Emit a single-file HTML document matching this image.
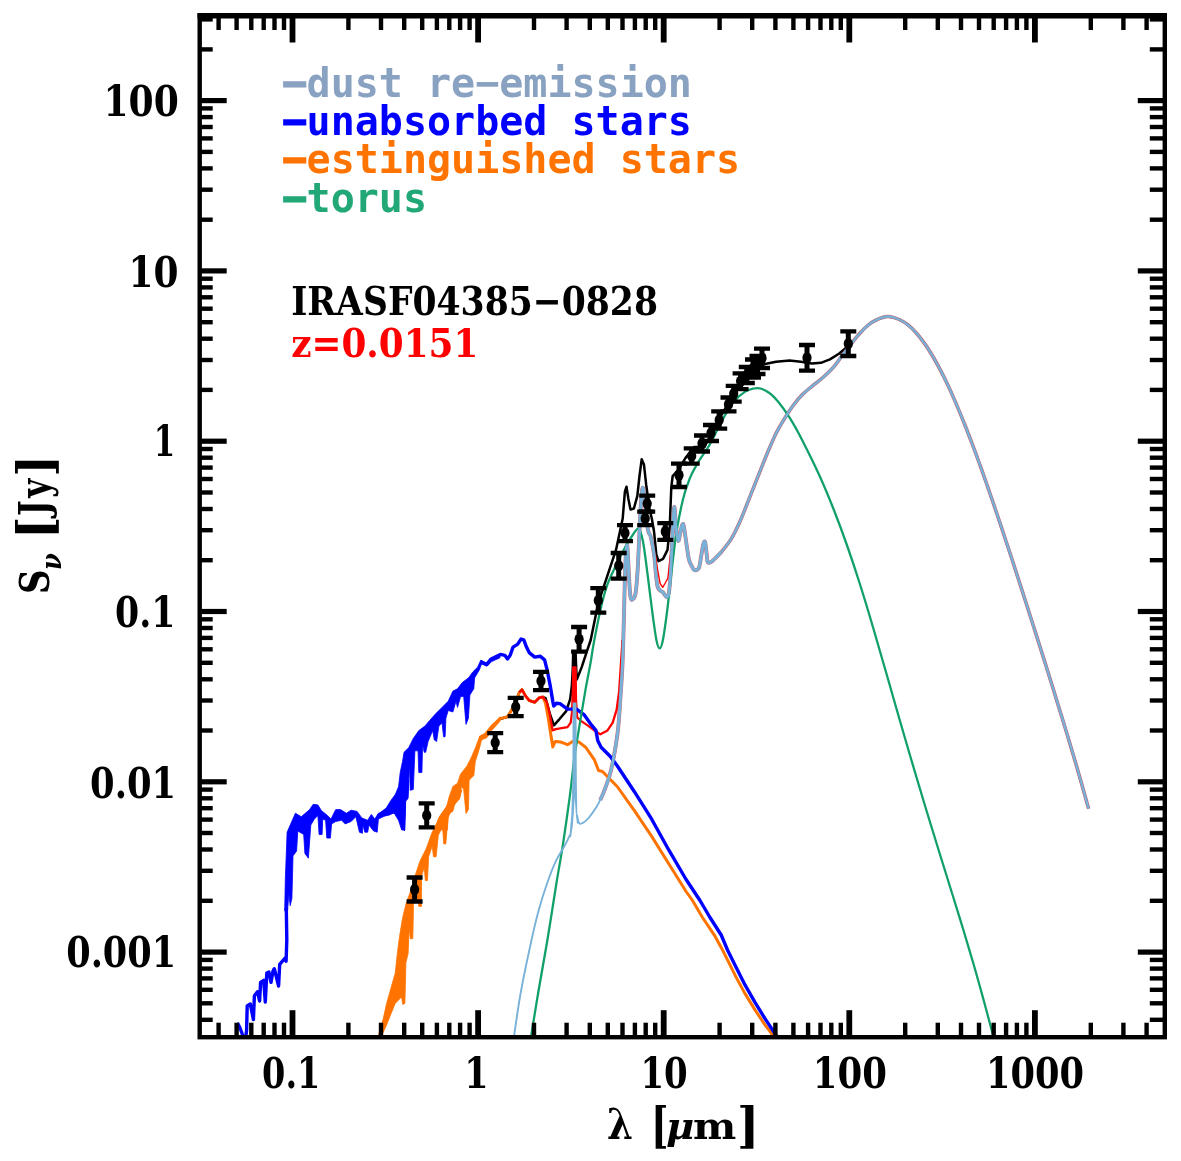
<!DOCTYPE html>
<html lang="en"><head><meta charset="utf-8"><title>SED IRASF04385-0828</title>
<style>html,body{margin:0;padding:0;background:#fff}svg{display:block;filter:blur(0.55px)}</style></head>
<body>
<svg width="1181" height="1161" viewBox="0 0 1181 1161">
<clipPath id="c"><rect x="199.7" y="15.5" width="965.1" height="1021.7"/></clipPath>
<g clip-path="url(#c)">
<polyline points="500.0,719.0 507.5,716.8 514.8,705.1 519.3,692.4 522.0,689.7 525.6,696.0 529.2,700.5 534.7,702.3 539.2,697.8 542.8,696.9 545.5,698.1 547.4,704.6 549.4,712.4 553.9,725.3 559.7,718.8 566.2,711.1 570.1,699.4 571.8,686.5 572.8,668.0 573.2,653.0 575.6,653.0 576.2,668.0 576.8,679.5 581.7,667.1 586.8,651.6 590.7,640.0 598.1,603.7 607.0,576.8 616.0,549.9 622.7,518.5 624.9,491.7 626.5,486.7 628.3,498.4 630.5,509.6 633.9,508.5 637.3,496.1 639.5,476.0 641.7,459.2 644.0,464.8 646.2,485.0 649.6,509.6 651.8,518.5 654.1,532.0 656.3,554.4 658.5,561.1 663.0,558.9 667.5,549.9 669.7,527.5 671.3,487.2 672.7,476.0 678.7,469.3 685.4,458.1 694.4,446.9 704.5,447.0 716.0,424.0 728.0,404.0 740.0,386.0 750.0,373.0 758.0,366.0 765.0,363.9 776.1,361.7 789.6,360.5 800.8,361.7 812.0,363.5 820.9,362.8 829.9,359.4 838.9,353.8 845.6,348.2 852.3,341.5" fill="none" stroke="#000" stroke-width="2.5" stroke-linejoin="round" stroke-linecap="butt" />
<polyline points="574.4,653.0 574.4,670.0" fill="none" stroke="#000" stroke-width="3.6" stroke-linejoin="round" stroke-linecap="butt" />
<path d="M600.2,800.0 C600.8,798.7 602.2,796.1 603.6,792.4 C605.0,788.7 607.3,783.0 608.8,778.0 C610.3,773.0 611.2,770.6 612.7,762.7 C614.2,754.8 616.6,741.2 617.9,730.4 C619.2,719.6 619.6,708.9 620.4,698.1 C621.1,687.3 621.8,678.5 622.4,665.8 C623.0,653.0 623.3,638.7 623.8,621.6 C624.3,604.5 624.8,576.0 625.4,563.3 C626.0,550.6 626.6,543.1 627.2,545.4 C627.8,547.6 628.5,568.2 629.0,576.8 C629.5,585.4 629.9,593.2 630.5,596.9 C631.1,600.6 631.9,600.0 632.8,599.2 C633.7,598.5 634.9,598.0 635.7,592.4 C636.6,586.8 637.1,578.3 637.9,565.6 C638.6,552.9 639.5,529.2 640.2,516.3 C641.0,503.4 641.6,491.3 642.4,488.3 C643.1,485.3 644.1,493.4 644.7,498.4 C645.3,503.4 645.6,512.9 646.2,518.5 C646.8,524.1 647.8,529.0 648.5,532.0 C649.2,535.0 649.8,532.8 650.7,536.5 C651.6,540.2 653.0,546.2 654.1,554.4 C655.2,562.6 655.9,579.4 657.4,585.7 C658.9,592.0 661.3,590.5 663.0,592.4 C664.7,594.3 666.4,598.0 667.5,596.9 C668.6,595.8 669.0,594.3 669.7,585.7 C670.5,577.1 671.2,558.5 672.0,545.4 C672.8,532.3 673.5,510.3 674.2,507.3 C674.9,504.3 675.3,521.9 676.0,527.5 C676.7,533.1 677.5,540.5 678.3,540.9 C679.1,541.3 680.1,532.5 680.9,529.7 C681.7,526.9 682.5,523.0 683.2,524.1 C684.0,525.2 684.5,530.7 685.4,536.5 C686.3,542.3 687.7,553.9 688.8,558.9 C689.9,563.9 691.2,564.8 692.1,566.7 C693.0,568.6 693.3,569.9 694.4,570.1 C695.5,570.3 697.8,570.0 698.9,567.8 C700.0,565.5 700.4,560.5 701.1,556.6 C701.8,552.7 702.6,546.7 703.3,544.3 C704.0,541.9 704.5,540.4 705.1,542.1 C705.7,543.8 706.2,551.0 706.7,554.4 C707.2,557.8 706.9,561.1 707.8,562.2 C708.7,563.3 710.0,562.8 712.3,561.1 C714.5,559.4 719.8,553.6 721.3,552.1" fill="none" stroke="#b0283c" stroke-width="3.9" stroke-linejoin="round" stroke-linecap="butt" opacity="0.7"/>
<path d="M721.3,552.1 C723.0,549.9 728.2,543.8 731.4,538.6 C734.6,533.4 737.3,527.4 740.3,520.7 C743.3,514.0 746.3,505.8 749.3,498.3 C752.3,490.8 755.2,483.4 758.2,475.9 C761.2,468.4 764.2,460.6 767.2,453.5 C770.2,446.4 773.1,439.3 776.1,433.3 C779.1,427.3 782.1,422.6 785.1,417.7 C788.1,412.8 791.1,408.1 794.1,404.2 C797.1,400.3 800.0,397.1 803.0,394.1 C806.0,391.1 808.6,389.1 812.0,386.3 C815.4,383.5 819.5,380.7 823.2,377.3 C826.9,373.9 831.0,370.0 834.4,366.1 C837.8,362.2 840.3,357.8 843.3,353.8 C846.3,349.9 849.5,345.9 852.3,342.4 C855.1,338.9 857.6,335.7 860.3,332.8 C863.0,329.9 865.6,327.2 868.3,325.0 C871.0,322.8 873.6,321.1 876.3,319.8 C879.0,318.5 882.3,317.6 884.3,317.0 C886.2,316.4 886.7,316.5 888.0,316.5 C889.3,316.5 890.2,316.6 892.3,317.2 C894.3,317.8 897.6,318.7 900.3,320.0 C903.0,321.3 905.6,323.0 908.3,325.2 C911.0,327.4 913.6,330.0 916.3,333.0 C919.0,336.0 921.6,339.4 924.3,343.1 C927.0,346.9 929.6,351.0 932.3,355.5 C935.0,360.0 937.6,364.8 940.3,369.9 C943.0,375.0 945.6,380.4 948.3,386.1 C951.0,391.8 953.6,397.9 956.3,404.1 C959.0,410.3 961.6,416.8 964.3,423.5 C967.0,430.2 969.6,437.1 972.3,444.2 C975.0,451.3 977.6,458.5 980.3,465.9 C983.0,473.3 985.6,480.9 988.3,488.6 C991.0,496.3 993.6,504.1 996.3,512.0 C999.0,519.9 1001.6,528.0 1004.3,536.0 C1007.0,544.0 1009.6,552.1 1012.3,560.3 C1015.0,568.5 1017.6,576.7 1020.3,585.0 C1023.0,593.3 1025.6,601.6 1028.3,610.0 C1031.0,618.4 1033.6,626.7 1036.3,635.1 C1039.0,643.5 1041.6,651.9 1044.3,660.4 C1047.0,668.9 1049.6,677.4 1052.3,686.0 C1055.0,694.6 1057.6,703.2 1060.3,711.9 C1063.0,720.6 1065.6,729.3 1068.3,738.2 C1071.0,747.1 1073.6,756.0 1076.3,765.2 C1079.0,774.4 1082.2,785.9 1084.3,793.2 C1086.3,800.5 1087.9,806.2 1088.6,808.8" fill="none" stroke="#a02838" stroke-width="3.5" stroke-linejoin="round" stroke-linecap="butt" opacity="0.75"/>
<polygon points="377.9,1036.8 383.3,1018.4 386.6,1003.4 390.9,988.3 395.2,973.2 397.3,953.8 399.5,936.6 402.7,917.2 405.9,904.2 411.3,889.1 415.6,874.1 420.0,861.1 426.4,848.2 431.8,833.1 438.3,820.2 444.7,809.4 451.2,798.6 456.6,790.0 462.0,790.0 459.8,796.5 455.5,802.9 451.2,810.5 448.0,818.0 445.8,843.9 443.7,843.9 442.6,826.6 438.3,835.3 436.1,856.8 433.5,856.8 432.2,846.0 428.6,856.8 427.5,880.5 425.3,880.5 424.3,867.6 421.5,876.2 421.5,906.4 418.9,906.4 417.8,897.8 413.5,904.2 412.8,938.7 410.3,938.7 409.2,927.9 408.1,953.8 405.9,962.4 404.9,1003.4 402.7,1004.4 401.6,996.9 395.2,1003.4 390.9,1014.1 386.6,1024.9 381.2,1036.8" fill="#ff7300" stroke="#ff7300" stroke-width="0.8" stroke-linejoin="round"/>
<polygon points="434.3,830.0 438.9,817.4 442.0,812.8 446.7,806.6 449.0,797.3 452.9,786.4 457.5,783.3 460.6,774.0 466.8,766.3 471.5,757.0 476.1,746.1 479.2,737.6 485.4,734.5 490.1,727.5 500.0,716.7 500.0,721.3 491.6,730.6 487.0,737.6 481.6,739.9 479.2,749.2 475.3,761.6 473.8,775.6 469.1,780.2 468.4,809.7 466.0,813.6 463.7,789.5 461.4,786.4 459.8,798.8 456.7,801.9 454.4,805.0 452.9,811.2 448.2,814.3 447.4,830.0" fill="#ff7300" stroke="#ff7300" stroke-width="0.8" stroke-linejoin="round"/>
<polyline points="479.5,737.6 485.8,734.0 493.1,725.0 500.3,718.6 507.5,716.8 514.8,705.1 519.3,692.4 522.0,689.7 525.6,696.0 529.2,700.5 534.7,702.3 539.2,697.8 542.8,696.9 545.5,703.2 548.2,717.7 551.0,735.8 552.8,747.0 555.2,741.4 561.0,742.1 567.5,744.7 572.6,741.4 579.1,742.1 585.6,747.2 594.6,760.2 598.5,770.5 602.5,771.5 617.2,786.5 634.4,810.6 651.7,836.4 668.9,864.0 686.1,891.5 692.5,900.5 702.5,917.5 715.0,936.2 721.2,947.4 727.5,959.9 736.2,977.4 745.0,993.6 755.0,1009.9 765.0,1024.8 773.5,1036.0" fill="none" stroke="#ff7300" stroke-width="3.0" stroke-linejoin="round" stroke-linecap="butt" />
<polyline points="519.3,692.4 522.0,689.7 525.6,696.0 529.2,700.5 534.7,702.3 539.2,697.8 542.8,696.9 546.8,702.0 549.4,712.4 552.6,730.4 555.8,729.1 567.5,727.2 570.7,722.7 572.0,712.4 572.9,690.0 573.2,667.5 575.6,667.5 576.0,700.0 577.2,717.5 581.7,721.4 589.4,726.6 595.9,731.7 600.4,734.3 607.5,730.4 612.7,722.7 616.6,709.8 619.1,691.7 620.4,672.3 621.7,652.9 622.4,640.0" fill="none" stroke="#ff0000" stroke-width="2.3" stroke-linejoin="round" stroke-linecap="butt" />
<polyline points="654.1,552.0 655.6,556.0 657.5,569.2 660.1,583.4 662.7,587.3 665.3,583.0 667.9,578.0 669.8,560.0 672.0,545.4" fill="none" stroke="#ff0000" stroke-width="1.4" stroke-linejoin="round" stroke-linecap="butt" />
<polyline points="574.4,667.5 574.4,714.0" fill="none" stroke="#ff0000" stroke-width="3.4" stroke-linejoin="round" stroke-linecap="butt" />
<polyline points="237.4,1022.7 240.0,1028.0 243.0,1036.0 245.5,1040.0 246.6,1030.0 247.2,1006.0 250.3,1004.0 253.4,1019.6 254.4,995.8 257.5,991.7 259.6,1001.0 260.6,982.4 263.7,980.3 265.3,1002.0 266.8,973.0 268.9,972.0 271.0,982.4 273.0,971.0 274.3,968.7 278.6,986.0 279.7,964.4 285.1,958.0 286.1,961.2 286.8,940.0 286.3,908.0" fill="none" stroke="#0000ff" stroke-width="3.4" stroke-linejoin="round" stroke-linecap="butt" />
<polygon points="284.7,911.0 285.3,880.0 287.1,832.2 295.4,813.2 301.3,816.7 309.6,809.6 313.2,804.3 317.9,804.9 321.5,810.8 326.2,814.4 331.0,819.1 335.7,809.6 340.5,809.6 346.4,813.2 351.1,810.2 357.1,811.4 361.8,817.9 367.7,820.3 371.3,814.4 374.8,819.1 378.4,813.2 384.3,811.4 389.1,806.1 392.6,800.2 398.5,789.5 402.1,780.0 408.6,780.0 408.0,797.8 405.7,801.3 404.5,831.0 399.7,821.5 396.2,813.2 391.4,813.2 386.7,815.0 378.4,819.1 377.2,832.2 373.6,831.0 368.9,825.0 367.7,832.2 364.8,832.2 363.0,825.0 362.4,833.3 359.4,832.2 355.9,816.7 351.1,821.5 345.2,823.9 341.6,820.3 335.7,821.5 331.6,823.9 330.4,838.1 326.8,838.1 325.6,820.3 322.7,819.1 322.1,834.5 319.1,834.5 317.9,815.6 314.4,819.1 310.8,825.0 308.4,858.2 304.9,853.5 303.7,834.5 297.8,831.0 296.6,851.1 293.0,855.9 292.4,880.0 291.9,898.5 290.2,905.7 288.8,893.8 287.6,911.0" fill="#0000ff" stroke="#0000ff" stroke-width="0.8" stroke-linejoin="round"/>
<polygon points="380.0,812.8 386.2,808.1 390.9,800.4 395.5,794.2 398.6,786.4 400.2,772.5 402.5,761.6 404.0,752.3 408.7,747.7 413.3,738.4 418.8,730.6 425.0,726.0 429.6,720.5 435.8,713.6 442.0,707.4 448.2,701.2 452.9,691.1 457.5,688.8 462.2,682.6 468.4,677.9 473.0,671.7 477.7,667.1 480.8,660.1 487.0,664.0 491.6,658.5 500.0,654.7 500.0,657.8 491.6,661.6 487.0,666.3 481.6,664.0 479.2,670.2 474.6,677.9 473.8,688.8 469.9,695.0 468.4,718.2 466.0,724.4 463.7,696.5 460.6,696.5 457.5,707.4 456.0,701.2 452.9,712.0 448.2,710.5 445.9,718.2 445.1,736.8 443.6,736.8 442.0,722.9 438.9,726.0 436.6,741.5 434.3,739.9 432.7,730.6 428.1,741.5 425.7,752.3 424.2,752.3 422.6,744.6 421.9,772.5 418.8,772.5 418.0,750.8 414.9,750.8 413.3,789.5 410.2,790.3 409.5,764.7 407.9,798.8 405.6,800.4 404.8,830.0 401.7,830.0 398.6,820.5 394.0,812.8 389.3,815.1 384.7,815.9 380.0,815.9" fill="#0000ff" stroke="#0000ff" stroke-width="0.8" stroke-linejoin="round"/>
<polyline points="480.4,661.6 486.7,664.3 491.2,658.9 500.3,654.4 504.8,655.3 507.5,658.9 510.2,655.3 513.0,647.1 517.5,644.4 521.1,639.0 523.8,639.9 526.5,647.1 529.2,652.6 534.7,657.1 540.1,656.2 544.6,659.8 547.3,670.7 550.1,685.1 552.8,701.4 553.7,706.0 556.4,703.2 560.0,703.6 567.5,709.1 576.5,709.1 584.3,714.9 590.7,724.0 595.9,730.4 597.8,740.8 601.1,747.2 610.1,756.3 617.2,765.8 634.4,791.7 651.7,819.2 668.9,850.2 686.1,879.5 700.0,900.5 710.0,917.5 721.2,935.0 727.5,950.0 736.2,967.4 745.0,984.9 755.0,1002.4 765.0,1018.6 776.6,1036.0" fill="none" stroke="#0000ff" stroke-width="3.4" stroke-linejoin="round" stroke-linecap="butt" />
<path d="M531.1,1036.4 C532.3,1029.1 535.5,1008.6 538.2,992.8 C540.9,976.9 544.2,959.2 547.2,941.3 C550.2,923.4 553.5,901.4 556.1,885.3 C558.7,869.2 560.6,859.5 562.9,844.9 C565.1,830.3 567.6,812.7 569.6,797.9 C571.6,783.1 572.8,769.3 574.6,756.3 C576.4,743.3 578.6,731.3 580.4,720.1 C582.2,708.9 583.9,698.8 585.6,689.1 C587.3,679.4 589.4,669.5 590.7,662.0 C592.0,654.5 592.0,652.6 593.6,644.0 C595.2,635.4 598.1,620.1 600.3,610.4 C602.5,600.7 604.4,593.2 607.0,585.7 C609.6,578.2 613.0,571.9 616.0,565.6 C619.0,559.3 622.3,552.6 624.9,547.7 C627.5,542.9 629.5,539.7 631.7,536.5 C634.0,533.3 636.5,527.9 638.4,528.6 C640.3,529.3 641.4,533.6 642.9,540.9 C644.4,548.2 645.8,561.1 647.3,572.3 C648.8,583.5 650.3,596.9 651.8,608.1 C653.3,619.3 655.0,632.8 656.3,639.5 C657.6,646.2 658.6,648.4 659.7,648.4 C660.8,648.4 661.7,646.2 663.0,639.5 C664.3,632.8 666.0,620.1 667.5,608.1 C669.0,596.1 670.5,580.5 672.0,567.8 C673.5,555.1 674.6,543.6 676.5,532.0 C678.4,520.4 681.0,507.4 683.2,498.4 C685.4,489.4 687.7,483.8 689.9,478.2 C692.1,472.6 694.0,469.3 696.6,464.8 C699.2,460.3 703.2,454.8 705.6,451.0 C708.0,447.2 708.4,447.2 711.2,442.0 C714.0,436.8 718.7,426.6 722.4,419.9 C726.1,413.2 729.9,406.7 733.6,402.0 C737.3,397.3 741.4,394.1 744.8,391.9 C748.2,389.6 751.2,389.1 753.8,388.5 C756.4,387.9 757.9,387.8 760.5,388.5 C763.1,389.2 766.4,390.8 769.4,393.0 C772.4,395.2 775.0,397.9 778.4,402.0 C781.8,406.1 785.6,411.4 789.6,417.7 C793.6,424.0 797.2,430.4 802.1,440.0 C807.0,449.6 813.9,463.3 819.2,475.0 C824.5,486.7 829.3,498.3 833.9,510.0 C838.5,521.7 842.8,533.3 846.9,545.0 C851.0,556.7 854.9,568.3 858.6,580.0 C862.4,591.7 865.9,603.3 869.4,615.0 C872.9,626.7 876.2,638.3 879.6,650.0 C883.0,661.7 886.4,673.3 889.7,685.0 C893.1,696.7 896.3,708.3 899.7,720.0 C903.1,731.7 906.5,743.3 909.9,755.0 C913.3,766.7 916.8,778.3 920.3,790.0 C923.8,801.7 927.3,813.3 930.9,825.0 C934.5,836.7 938.1,848.3 941.7,860.0 C945.3,871.7 949.0,883.3 952.6,895.0 C956.2,906.7 959.9,918.3 963.4,930.0 C966.9,941.7 970.4,953.3 973.8,965.0 C977.2,976.7 980.3,988.0 983.6,1000.0 C986.9,1012.0 991.9,1031.0 993.6,1037.2" fill="none" stroke="#12a06a" stroke-width="2.3" stroke-linejoin="round" stroke-linecap="butt" />
<path d="M514.0,1036.4 C515.0,1029.5 517.8,1009.4 520.3,995.0 C522.8,980.6 526.3,964.0 529.3,950.2 C532.3,936.4 535.2,923.3 538.2,912.1 C541.2,900.9 544.2,891.6 547.2,883.0 C550.2,874.4 553.1,867.0 556.1,860.6 C559.1,854.2 562.8,849.2 565.1,844.9 C567.5,840.5 569.4,836.2 570.2,834.5" fill="none" stroke="#79b2d8" stroke-width="1.9" stroke-linejoin="round" stroke-linecap="butt" />
<path d="M577.0,815.0 C577.5,816.5 578.0,823.0 579.7,823.7 C581.5,824.4 584.7,822.0 587.5,819.2 C590.3,816.4 594.4,810.1 596.5,806.9 C598.6,803.7 599.6,801.1 600.2,800.0" fill="none" stroke="#79b2d8" stroke-width="1.9" stroke-linejoin="round" stroke-linecap="butt" />
<polygon points="569.4,836.4 571.3,815 572.4,780 572.6,702.5 576.5,702.5 576.8,780 577.3,816 578.5,822.6 577.0,824.2 575.7,812 574.7,798 573.9,812 572.8,826 571.0,837.4" fill="#79b2d8"/>
<path d="M600.2,800.0 C600.8,798.7 602.2,796.1 603.6,792.4 C605.0,788.7 607.3,783.0 608.8,778.0 C610.3,773.0 611.2,770.6 612.7,762.7 C614.2,754.8 616.6,741.2 617.9,730.4 C619.2,719.6 619.6,708.9 620.4,698.1 C621.1,687.3 621.8,678.5 622.4,665.8 C623.0,653.0 623.3,638.7 623.8,621.6 C624.3,604.5 624.8,576.0 625.4,563.3 C626.0,550.6 626.6,543.1 627.2,545.4 C627.8,547.6 628.5,568.2 629.0,576.8 C629.5,585.4 629.9,593.2 630.5,596.9 C631.1,600.6 631.9,600.0 632.8,599.2 C633.7,598.5 634.9,598.0 635.7,592.4 C636.6,586.8 637.1,578.3 637.9,565.6 C638.6,552.9 639.5,529.2 640.2,516.3 C641.0,503.4 641.6,491.3 642.4,488.3 C643.1,485.3 644.1,493.4 644.7,498.4 C645.3,503.4 645.6,512.9 646.2,518.5 C646.8,524.1 647.8,529.0 648.5,532.0 C649.2,535.0 649.8,532.8 650.7,536.5 C651.6,540.2 653.0,546.2 654.1,554.4 C655.2,562.6 655.9,579.4 657.4,585.7 C658.9,592.0 661.3,590.5 663.0,592.4 C664.7,594.3 666.4,598.0 667.5,596.9 C668.6,595.8 669.0,594.3 669.7,585.7 C670.5,577.1 671.2,558.5 672.0,545.4 C672.8,532.3 673.5,510.3 674.2,507.3 C674.9,504.3 675.3,521.9 676.0,527.5 C676.7,533.1 677.5,540.5 678.3,540.9 C679.1,541.3 680.1,532.5 680.9,529.7 C681.7,526.9 682.5,523.0 683.2,524.1 C684.0,525.2 684.5,530.7 685.4,536.5 C686.3,542.3 687.7,553.9 688.8,558.9 C689.9,563.9 691.2,564.8 692.1,566.7 C693.0,568.6 693.3,569.9 694.4,570.1 C695.5,570.3 697.8,570.0 698.9,567.8 C700.0,565.5 700.4,560.5 701.1,556.6 C701.8,552.7 702.6,546.7 703.3,544.3 C704.0,541.9 704.5,540.4 705.1,542.1 C705.7,543.8 706.2,551.0 706.7,554.4 C707.2,557.8 706.9,561.1 707.8,562.2 C708.7,563.3 710.0,562.8 712.3,561.1 C714.5,559.4 719.8,553.6 721.3,552.1" fill="none" stroke="#79b2d8" stroke-width="3.1" stroke-linejoin="round" stroke-linecap="butt" />
<path d="M721.3,552.1 C723.0,549.9 728.2,543.8 731.4,538.6 C734.6,533.4 737.3,527.4 740.3,520.7 C743.3,514.0 746.3,505.8 749.3,498.3 C752.3,490.8 755.2,483.4 758.2,475.9 C761.2,468.4 764.2,460.6 767.2,453.5 C770.2,446.4 773.1,439.3 776.1,433.3 C779.1,427.3 782.1,422.6 785.1,417.7 C788.1,412.8 791.1,408.1 794.1,404.2 C797.1,400.3 800.0,397.1 803.0,394.1 C806.0,391.1 808.6,389.1 812.0,386.3 C815.4,383.5 819.5,380.7 823.2,377.3 C826.9,373.9 831.0,370.0 834.4,366.1 C837.8,362.2 840.3,357.8 843.3,353.8 C846.3,349.9 849.5,345.9 852.3,342.4 C855.1,338.9 857.6,335.7 860.3,332.8 C863.0,329.9 865.6,327.2 868.3,325.0 C871.0,322.8 873.6,321.1 876.3,319.8 C879.0,318.5 882.3,317.6 884.3,317.0 C886.2,316.4 886.7,316.5 888.0,316.5 C889.3,316.5 890.2,316.6 892.3,317.2 C894.3,317.8 897.6,318.7 900.3,320.0 C903.0,321.3 905.6,323.0 908.3,325.2 C911.0,327.4 913.6,330.0 916.3,333.0 C919.0,336.0 921.6,339.4 924.3,343.1 C927.0,346.9 929.6,351.0 932.3,355.5 C935.0,360.0 937.6,364.8 940.3,369.9 C943.0,375.0 945.6,380.4 948.3,386.1 C951.0,391.8 953.6,397.9 956.3,404.1 C959.0,410.3 961.6,416.8 964.3,423.5 C967.0,430.2 969.6,437.1 972.3,444.2 C975.0,451.3 977.6,458.5 980.3,465.9 C983.0,473.3 985.6,480.9 988.3,488.6 C991.0,496.3 993.6,504.1 996.3,512.0 C999.0,519.9 1001.6,528.0 1004.3,536.0 C1007.0,544.0 1009.6,552.1 1012.3,560.3 C1015.0,568.5 1017.6,576.7 1020.3,585.0 C1023.0,593.3 1025.6,601.6 1028.3,610.0 C1031.0,618.4 1033.6,626.7 1036.3,635.1 C1039.0,643.5 1041.6,651.9 1044.3,660.4 C1047.0,668.9 1049.6,677.4 1052.3,686.0 C1055.0,694.6 1057.6,703.2 1060.3,711.9 C1063.0,720.6 1065.6,729.3 1068.3,738.2 C1071.0,747.1 1073.6,756.0 1076.3,765.2 C1079.0,774.4 1082.2,785.9 1084.3,793.2 C1086.3,800.5 1087.9,806.2 1088.6,808.8" fill="none" stroke="#79b2d8" stroke-width="2.4" stroke-linejoin="round" stroke-linecap="butt" />
</g>
<g><path d="M414.6,877.5 V901.5" stroke="#000" stroke-width="5" fill="none"/><path d="M406.6,877.5 H422.6 M406.6,901.5 H422.6" stroke="#000" stroke-width="4.3" fill="none"/><ellipse cx="414.6" cy="889.5" rx="4.6" ry="5.6" fill="#000"/><path d="M426.7,803.4 V827.4" stroke="#000" stroke-width="5" fill="none"/><path d="M418.7,803.4 H434.7 M418.7,827.4 H434.7" stroke="#000" stroke-width="4.3" fill="none"/><ellipse cx="426.7" cy="815.4" rx="4.6" ry="5.6" fill="#000"/><path d="M495.2,733.1 V752.1" stroke="#000" stroke-width="5" fill="none"/><path d="M487.2,733.1 H503.2 M487.2,752.1 H503.2" stroke="#000" stroke-width="4.3" fill="none"/><ellipse cx="495.2" cy="742.6" rx="4.6" ry="5.6" fill="#000"/><path d="M515.7,697.8 V716.2" stroke="#000" stroke-width="5" fill="none"/><path d="M507.7,697.8 H523.7 M507.7,716.2 H523.7" stroke="#000" stroke-width="4.3" fill="none"/><ellipse cx="515.7" cy="707.0" rx="4.6" ry="5.6" fill="#000"/><path d="M541.0,671.8 V690.2" stroke="#000" stroke-width="5" fill="none"/><path d="M533.0,671.8 H549.0 M533.0,690.2 H549.0" stroke="#000" stroke-width="4.3" fill="none"/><ellipse cx="541.0" cy="681.0" rx="4.6" ry="5.6" fill="#000"/><path d="M579.1,627.0 V651.6" stroke="#000" stroke-width="5" fill="none"/><path d="M571.1,627.0 H587.1 M571.1,651.6 H587.1" stroke="#000" stroke-width="4.3" fill="none"/><ellipse cx="579.1" cy="639.3" rx="4.6" ry="5.6" fill="#000"/><path d="M598.3,588.1 V612.7" stroke="#000" stroke-width="5" fill="none"/><path d="M590.3,588.1 H606.3 M590.3,612.7 H606.3" stroke="#000" stroke-width="4.3" fill="none"/><ellipse cx="598.3" cy="600.4" rx="4.6" ry="5.6" fill="#000"/><path d="M618.7,553.0 V578.6" stroke="#000" stroke-width="5" fill="none"/><path d="M610.7,553.0 H626.7 M610.7,578.6 H626.7" stroke="#000" stroke-width="4.3" fill="none"/><ellipse cx="618.7" cy="565.8" rx="4.6" ry="5.6" fill="#000"/><path d="M625.0,525.1 V541.1" stroke="#000" stroke-width="5" fill="none"/><path d="M617.0,525.1 H633.0 M617.0,541.1 H633.0" stroke="#000" stroke-width="4.3" fill="none"/><ellipse cx="625.0" cy="533.1" rx="4.6" ry="5.6" fill="#000"/><path d="M647.2,495.6 V511.6" stroke="#000" stroke-width="5" fill="none"/><path d="M639.2,495.6 H655.2 M639.2,511.6 H655.2" stroke="#000" stroke-width="4.3" fill="none"/><ellipse cx="647.2" cy="503.6" rx="4.6" ry="5.6" fill="#000"/><path d="M645.2,511.6 V525.2" stroke="#000" stroke-width="5" fill="none"/><path d="M637.2,511.6 H653.2 M637.2,525.2 H653.2" stroke="#000" stroke-width="4.3" fill="none"/><ellipse cx="645.2" cy="518.4" rx="4.6" ry="5.6" fill="#000"/><path d="M665.3,523.1 V539.9" stroke="#000" stroke-width="5" fill="none"/><path d="M657.3,523.1 H673.3 M657.3,539.9 H673.3" stroke="#000" stroke-width="4.3" fill="none"/><ellipse cx="665.3" cy="531.5" rx="4.6" ry="5.6" fill="#000"/><path d="M679.0,463.6 V487.0" stroke="#000" stroke-width="5" fill="none"/><path d="M671.0,463.6 H687.0 M671.0,487.0 H687.0" stroke="#000" stroke-width="4.3" fill="none"/><ellipse cx="679.0" cy="475.3" rx="4.6" ry="5.6" fill="#000"/><path d="M691.7,448.4 V463.6" stroke="#000" stroke-width="5" fill="none"/><path d="M683.7,448.4 H699.7 M683.7,463.6 H699.7" stroke="#000" stroke-width="4.3" fill="none"/><ellipse cx="691.7" cy="456.0" rx="4.6" ry="5.6" fill="#000"/><path d="M702.0,435.5 V451.5" stroke="#000" stroke-width="5" fill="none"/><path d="M694.0,435.5 H710.0 M694.0,451.5 H710.0" stroke="#000" stroke-width="4.3" fill="none"/><ellipse cx="702.0" cy="443.5" rx="4.6" ry="5.6" fill="#000"/><path d="M711.0,425.0 V441.0" stroke="#000" stroke-width="5" fill="none"/><path d="M703.0,425.0 H719.0 M703.0,441.0 H719.0" stroke="#000" stroke-width="4.3" fill="none"/><ellipse cx="711.0" cy="433.0" rx="4.6" ry="5.6" fill="#000"/><path d="M719.2,411.4 V428.6" stroke="#000" stroke-width="5" fill="none"/><path d="M711.2,411.4 H727.2 M711.2,428.6 H727.2" stroke="#000" stroke-width="4.3" fill="none"/><ellipse cx="719.2" cy="420.0" rx="4.6" ry="5.6" fill="#000"/><path d="M728.5,397.5 V411.3" stroke="#000" stroke-width="5" fill="none"/><path d="M720.5,397.5 H736.5 M720.5,411.3 H736.5" stroke="#000" stroke-width="4.3" fill="none"/><ellipse cx="728.5" cy="404.4" rx="4.6" ry="5.6" fill="#000"/><path d="M733.7,385.8 V401.6" stroke="#000" stroke-width="5" fill="none"/><path d="M725.7,385.8 H741.7 M725.7,401.6 H741.7" stroke="#000" stroke-width="4.3" fill="none"/><ellipse cx="733.7" cy="393.7" rx="4.6" ry="5.6" fill="#000"/><path d="M740.6,373.4 V389.2" stroke="#000" stroke-width="5" fill="none"/><path d="M732.6,373.4 H748.6 M732.6,389.2 H748.6" stroke="#000" stroke-width="4.3" fill="none"/><ellipse cx="740.6" cy="381.3" rx="4.6" ry="5.6" fill="#000"/><path d="M746.8,367.0 V383.0" stroke="#000" stroke-width="5" fill="none"/><path d="M738.8,367.0 H754.8 M738.8,383.0 H754.8" stroke="#000" stroke-width="4.3" fill="none"/><ellipse cx="746.8" cy="375.0" rx="4.6" ry="5.6" fill="#000"/><path d="M753.0,359.5 V377.5" stroke="#000" stroke-width="5" fill="none"/><path d="M745.0,359.5 H761.0 M745.0,377.5 H761.0" stroke="#000" stroke-width="4.3" fill="none"/><ellipse cx="753.0" cy="368.5" rx="4.6" ry="5.6" fill="#000"/><path d="M757.5,356.0 V374.0" stroke="#000" stroke-width="5" fill="none"/><path d="M749.5,356.0 H765.5 M749.5,374.0 H765.5" stroke="#000" stroke-width="4.3" fill="none"/><ellipse cx="757.5" cy="365.0" rx="4.6" ry="5.6" fill="#000"/><path d="M762.0,348.6 V368.0" stroke="#000" stroke-width="5" fill="none"/><path d="M754.0,348.6 H770.0 M754.0,368.0 H770.0" stroke="#000" stroke-width="4.3" fill="none"/><ellipse cx="762.0" cy="358.3" rx="4.6" ry="5.6" fill="#000"/><path d="M807.0,345.0 V370.6" stroke="#000" stroke-width="5" fill="none"/><path d="M799.0,345.0 H815.0 M799.0,370.6 H815.0" stroke="#000" stroke-width="4.3" fill="none"/><ellipse cx="807.0" cy="357.8" rx="4.6" ry="5.6" fill="#000"/><path d="M848.3,331.4 V356.0" stroke="#000" stroke-width="5" fill="none"/><path d="M840.3,331.4 H856.3 M840.3,356.0 H856.3" stroke="#000" stroke-width="4.3" fill="none"/><ellipse cx="848.3" cy="343.7" rx="4.6" ry="5.6" fill="#000"/></g>
<g stroke="#000" stroke-linecap="butt"><line x1="218.6" y1="1037.2" x2="218.6" y2="1022.7" stroke-width="4.4"/><line x1="218.6" y1="15.5" x2="218.6" y2="30.0" stroke-width="4.4"/><line x1="236.6" y1="1037.2" x2="236.6" y2="1022.7" stroke-width="4.4"/><line x1="236.6" y1="15.5" x2="236.6" y2="30.0" stroke-width="4.4"/><line x1="251.3" y1="1037.2" x2="251.3" y2="1022.7" stroke-width="4.4"/><line x1="251.3" y1="15.5" x2="251.3" y2="30.0" stroke-width="4.4"/><line x1="263.7" y1="1037.2" x2="263.7" y2="1022.7" stroke-width="4.4"/><line x1="263.7" y1="15.5" x2="263.7" y2="30.0" stroke-width="4.4"/><line x1="274.5" y1="1037.2" x2="274.5" y2="1022.7" stroke-width="4.4"/><line x1="274.5" y1="15.5" x2="274.5" y2="30.0" stroke-width="4.4"/><line x1="284.0" y1="1037.2" x2="284.0" y2="1022.7" stroke-width="4.4"/><line x1="284.0" y1="15.5" x2="284.0" y2="30.0" stroke-width="4.4"/><line x1="292.5" y1="1037.2" x2="292.5" y2="1010.2" stroke-width="5.8"/><line x1="292.5" y1="15.5" x2="292.5" y2="42.5" stroke-width="5.8"/><line x1="348.4" y1="1037.2" x2="348.4" y2="1022.7" stroke-width="4.4"/><line x1="348.4" y1="15.5" x2="348.4" y2="30.0" stroke-width="4.4"/><line x1="381.0" y1="1037.2" x2="381.0" y2="1022.7" stroke-width="4.4"/><line x1="381.0" y1="15.5" x2="381.0" y2="30.0" stroke-width="4.4"/><line x1="404.2" y1="1037.2" x2="404.2" y2="1022.7" stroke-width="4.4"/><line x1="404.2" y1="15.5" x2="404.2" y2="30.0" stroke-width="4.4"/><line x1="422.2" y1="1037.2" x2="422.2" y2="1022.7" stroke-width="4.4"/><line x1="422.2" y1="15.5" x2="422.2" y2="30.0" stroke-width="4.4"/><line x1="436.9" y1="1037.2" x2="436.9" y2="1022.7" stroke-width="4.4"/><line x1="436.9" y1="15.5" x2="436.9" y2="30.0" stroke-width="4.4"/><line x1="449.3" y1="1037.2" x2="449.3" y2="1022.7" stroke-width="4.4"/><line x1="449.3" y1="15.5" x2="449.3" y2="30.0" stroke-width="4.4"/><line x1="460.1" y1="1037.2" x2="460.1" y2="1022.7" stroke-width="4.4"/><line x1="460.1" y1="15.5" x2="460.1" y2="30.0" stroke-width="4.4"/><line x1="469.6" y1="1037.2" x2="469.6" y2="1022.7" stroke-width="4.4"/><line x1="469.6" y1="15.5" x2="469.6" y2="30.0" stroke-width="4.4"/><line x1="478.1" y1="1037.2" x2="478.1" y2="1010.2" stroke-width="5.8"/><line x1="478.1" y1="15.5" x2="478.1" y2="42.5" stroke-width="5.8"/><line x1="534.0" y1="1037.2" x2="534.0" y2="1022.7" stroke-width="4.4"/><line x1="534.0" y1="15.5" x2="534.0" y2="30.0" stroke-width="4.4"/><line x1="566.6" y1="1037.2" x2="566.6" y2="1022.7" stroke-width="4.4"/><line x1="566.6" y1="15.5" x2="566.6" y2="30.0" stroke-width="4.4"/><line x1="589.8" y1="1037.2" x2="589.8" y2="1022.7" stroke-width="4.4"/><line x1="589.8" y1="15.5" x2="589.8" y2="30.0" stroke-width="4.4"/><line x1="607.8" y1="1037.2" x2="607.8" y2="1022.7" stroke-width="4.4"/><line x1="607.8" y1="15.5" x2="607.8" y2="30.0" stroke-width="4.4"/><line x1="622.5" y1="1037.2" x2="622.5" y2="1022.7" stroke-width="4.4"/><line x1="622.5" y1="15.5" x2="622.5" y2="30.0" stroke-width="4.4"/><line x1="634.9" y1="1037.2" x2="634.9" y2="1022.7" stroke-width="4.4"/><line x1="634.9" y1="15.5" x2="634.9" y2="30.0" stroke-width="4.4"/><line x1="645.7" y1="1037.2" x2="645.7" y2="1022.7" stroke-width="4.4"/><line x1="645.7" y1="15.5" x2="645.7" y2="30.0" stroke-width="4.4"/><line x1="655.2" y1="1037.2" x2="655.2" y2="1022.7" stroke-width="4.4"/><line x1="655.2" y1="15.5" x2="655.2" y2="30.0" stroke-width="4.4"/><line x1="663.7" y1="1037.2" x2="663.7" y2="1010.2" stroke-width="5.8"/><line x1="663.7" y1="15.5" x2="663.7" y2="42.5" stroke-width="5.8"/><line x1="719.6" y1="1037.2" x2="719.6" y2="1022.7" stroke-width="4.4"/><line x1="719.6" y1="15.5" x2="719.6" y2="30.0" stroke-width="4.4"/><line x1="752.2" y1="1037.2" x2="752.2" y2="1022.7" stroke-width="4.4"/><line x1="752.2" y1="15.5" x2="752.2" y2="30.0" stroke-width="4.4"/><line x1="775.4" y1="1037.2" x2="775.4" y2="1022.7" stroke-width="4.4"/><line x1="775.4" y1="15.5" x2="775.4" y2="30.0" stroke-width="4.4"/><line x1="793.4" y1="1037.2" x2="793.4" y2="1022.7" stroke-width="4.4"/><line x1="793.4" y1="15.5" x2="793.4" y2="30.0" stroke-width="4.4"/><line x1="808.1" y1="1037.2" x2="808.1" y2="1022.7" stroke-width="4.4"/><line x1="808.1" y1="15.5" x2="808.1" y2="30.0" stroke-width="4.4"/><line x1="820.5" y1="1037.2" x2="820.5" y2="1022.7" stroke-width="4.4"/><line x1="820.5" y1="15.5" x2="820.5" y2="30.0" stroke-width="4.4"/><line x1="831.3" y1="1037.2" x2="831.3" y2="1022.7" stroke-width="4.4"/><line x1="831.3" y1="15.5" x2="831.3" y2="30.0" stroke-width="4.4"/><line x1="840.8" y1="1037.2" x2="840.8" y2="1022.7" stroke-width="4.4"/><line x1="840.8" y1="15.5" x2="840.8" y2="30.0" stroke-width="4.4"/><line x1="849.3" y1="1037.2" x2="849.3" y2="1010.2" stroke-width="5.8"/><line x1="849.3" y1="15.5" x2="849.3" y2="42.5" stroke-width="5.8"/><line x1="905.2" y1="1037.2" x2="905.2" y2="1022.7" stroke-width="4.4"/><line x1="905.2" y1="15.5" x2="905.2" y2="30.0" stroke-width="4.4"/><line x1="937.8" y1="1037.2" x2="937.8" y2="1022.7" stroke-width="4.4"/><line x1="937.8" y1="15.5" x2="937.8" y2="30.0" stroke-width="4.4"/><line x1="961.0" y1="1037.2" x2="961.0" y2="1022.7" stroke-width="4.4"/><line x1="961.0" y1="15.5" x2="961.0" y2="30.0" stroke-width="4.4"/><line x1="979.0" y1="1037.2" x2="979.0" y2="1022.7" stroke-width="4.4"/><line x1="979.0" y1="15.5" x2="979.0" y2="30.0" stroke-width="4.4"/><line x1="993.7" y1="1037.2" x2="993.7" y2="1022.7" stroke-width="4.4"/><line x1="993.7" y1="15.5" x2="993.7" y2="30.0" stroke-width="4.4"/><line x1="1006.1" y1="1037.2" x2="1006.1" y2="1022.7" stroke-width="4.4"/><line x1="1006.1" y1="15.5" x2="1006.1" y2="30.0" stroke-width="4.4"/><line x1="1016.9" y1="1037.2" x2="1016.9" y2="1022.7" stroke-width="4.4"/><line x1="1016.9" y1="15.5" x2="1016.9" y2="30.0" stroke-width="4.4"/><line x1="1026.4" y1="1037.2" x2="1026.4" y2="1022.7" stroke-width="4.4"/><line x1="1026.4" y1="15.5" x2="1026.4" y2="30.0" stroke-width="4.4"/><line x1="1034.9" y1="1037.2" x2="1034.9" y2="1010.2" stroke-width="5.8"/><line x1="1034.9" y1="15.5" x2="1034.9" y2="42.5" stroke-width="5.8"/><line x1="1090.8" y1="1037.2" x2="1090.8" y2="1022.7" stroke-width="4.4"/><line x1="1090.8" y1="15.5" x2="1090.8" y2="30.0" stroke-width="4.4"/><line x1="1123.4" y1="1037.2" x2="1123.4" y2="1022.7" stroke-width="4.4"/><line x1="1123.4" y1="15.5" x2="1123.4" y2="30.0" stroke-width="4.4"/><line x1="1146.6" y1="1037.2" x2="1146.6" y2="1022.7" stroke-width="4.4"/><line x1="1146.6" y1="15.5" x2="1146.6" y2="30.0" stroke-width="4.4"/><line x1="199.7" y1="1019.8" x2="212.7" y2="1019.8" stroke-width="4.4"/><line x1="1164.8" y1="1019.8" x2="1149.8" y2="1019.8" stroke-width="4.4"/><line x1="199.7" y1="1003.3" x2="212.7" y2="1003.3" stroke-width="4.4"/><line x1="1164.8" y1="1003.3" x2="1149.8" y2="1003.3" stroke-width="4.4"/><line x1="199.7" y1="989.8" x2="212.7" y2="989.8" stroke-width="4.4"/><line x1="1164.8" y1="989.8" x2="1149.8" y2="989.8" stroke-width="4.4"/><line x1="199.7" y1="978.4" x2="212.7" y2="978.4" stroke-width="4.4"/><line x1="1164.8" y1="978.4" x2="1149.8" y2="978.4" stroke-width="4.4"/><line x1="199.7" y1="968.6" x2="212.7" y2="968.6" stroke-width="4.4"/><line x1="1164.8" y1="968.6" x2="1149.8" y2="968.6" stroke-width="4.4"/><line x1="199.7" y1="959.9" x2="212.7" y2="959.9" stroke-width="4.4"/><line x1="1164.8" y1="959.9" x2="1149.8" y2="959.9" stroke-width="4.4"/><line x1="199.7" y1="952.1" x2="226.7" y2="952.1" stroke-width="5.2"/><line x1="1164.8" y1="952.1" x2="1137.8" y2="952.1" stroke-width="5.2"/><line x1="199.7" y1="900.8" x2="212.7" y2="900.8" stroke-width="4.4"/><line x1="1164.8" y1="900.8" x2="1149.8" y2="900.8" stroke-width="4.4"/><line x1="199.7" y1="870.8" x2="212.7" y2="870.8" stroke-width="4.4"/><line x1="1164.8" y1="870.8" x2="1149.8" y2="870.8" stroke-width="4.4"/><line x1="199.7" y1="849.5" x2="212.7" y2="849.5" stroke-width="4.4"/><line x1="1164.8" y1="849.5" x2="1149.8" y2="849.5" stroke-width="4.4"/><line x1="199.7" y1="833.0" x2="212.7" y2="833.0" stroke-width="4.4"/><line x1="1164.8" y1="833.0" x2="1149.8" y2="833.0" stroke-width="4.4"/><line x1="199.7" y1="819.6" x2="212.7" y2="819.6" stroke-width="4.4"/><line x1="1164.8" y1="819.6" x2="1149.8" y2="819.6" stroke-width="4.4"/><line x1="199.7" y1="808.2" x2="212.7" y2="808.2" stroke-width="4.4"/><line x1="1164.8" y1="808.2" x2="1149.8" y2="808.2" stroke-width="4.4"/><line x1="199.7" y1="798.3" x2="212.7" y2="798.3" stroke-width="4.4"/><line x1="1164.8" y1="798.3" x2="1149.8" y2="798.3" stroke-width="4.4"/><line x1="199.7" y1="789.6" x2="212.7" y2="789.6" stroke-width="4.4"/><line x1="1164.8" y1="789.6" x2="1149.8" y2="789.6" stroke-width="4.4"/><line x1="199.7" y1="781.8" x2="226.7" y2="781.8" stroke-width="5.2"/><line x1="1164.8" y1="781.8" x2="1137.8" y2="781.8" stroke-width="5.2"/><line x1="199.7" y1="730.5" x2="212.7" y2="730.5" stroke-width="4.4"/><line x1="1164.8" y1="730.5" x2="1149.8" y2="730.5" stroke-width="4.4"/><line x1="199.7" y1="700.5" x2="212.7" y2="700.5" stroke-width="4.4"/><line x1="1164.8" y1="700.5" x2="1149.8" y2="700.5" stroke-width="4.4"/><line x1="199.7" y1="679.3" x2="212.7" y2="679.3" stroke-width="4.4"/><line x1="1164.8" y1="679.3" x2="1149.8" y2="679.3" stroke-width="4.4"/><line x1="199.7" y1="662.8" x2="212.7" y2="662.8" stroke-width="4.4"/><line x1="1164.8" y1="662.8" x2="1149.8" y2="662.8" stroke-width="4.4"/><line x1="199.7" y1="649.3" x2="212.7" y2="649.3" stroke-width="4.4"/><line x1="1164.8" y1="649.3" x2="1149.8" y2="649.3" stroke-width="4.4"/><line x1="199.7" y1="637.9" x2="212.7" y2="637.9" stroke-width="4.4"/><line x1="1164.8" y1="637.9" x2="1149.8" y2="637.9" stroke-width="4.4"/><line x1="199.7" y1="628.0" x2="212.7" y2="628.0" stroke-width="4.4"/><line x1="1164.8" y1="628.0" x2="1149.8" y2="628.0" stroke-width="4.4"/><line x1="199.7" y1="619.3" x2="212.7" y2="619.3" stroke-width="4.4"/><line x1="1164.8" y1="619.3" x2="1149.8" y2="619.3" stroke-width="4.4"/><line x1="199.7" y1="611.5" x2="226.7" y2="611.5" stroke-width="5.2"/><line x1="1164.8" y1="611.5" x2="1137.8" y2="611.5" stroke-width="5.2"/><line x1="199.7" y1="560.2" x2="212.7" y2="560.2" stroke-width="4.4"/><line x1="1164.8" y1="560.2" x2="1149.8" y2="560.2" stroke-width="4.4"/><line x1="199.7" y1="530.2" x2="212.7" y2="530.2" stroke-width="4.4"/><line x1="1164.8" y1="530.2" x2="1149.8" y2="530.2" stroke-width="4.4"/><line x1="199.7" y1="509.0" x2="212.7" y2="509.0" stroke-width="4.4"/><line x1="1164.8" y1="509.0" x2="1149.8" y2="509.0" stroke-width="4.4"/><line x1="199.7" y1="492.5" x2="212.7" y2="492.5" stroke-width="4.4"/><line x1="1164.8" y1="492.5" x2="1149.8" y2="492.5" stroke-width="4.4"/><line x1="199.7" y1="479.0" x2="212.7" y2="479.0" stroke-width="4.4"/><line x1="1164.8" y1="479.0" x2="1149.8" y2="479.0" stroke-width="4.4"/><line x1="199.7" y1="467.6" x2="212.7" y2="467.6" stroke-width="4.4"/><line x1="1164.8" y1="467.6" x2="1149.8" y2="467.6" stroke-width="4.4"/><line x1="199.7" y1="457.7" x2="212.7" y2="457.7" stroke-width="4.4"/><line x1="1164.8" y1="457.7" x2="1149.8" y2="457.7" stroke-width="4.4"/><line x1="199.7" y1="449.0" x2="212.7" y2="449.0" stroke-width="4.4"/><line x1="1164.8" y1="449.0" x2="1149.8" y2="449.0" stroke-width="4.4"/><line x1="199.7" y1="441.2" x2="226.7" y2="441.2" stroke-width="5.2"/><line x1="1164.8" y1="441.2" x2="1137.8" y2="441.2" stroke-width="5.2"/><line x1="199.7" y1="389.9" x2="212.7" y2="389.9" stroke-width="4.4"/><line x1="1164.8" y1="389.9" x2="1149.8" y2="389.9" stroke-width="4.4"/><line x1="199.7" y1="360.0" x2="212.7" y2="360.0" stroke-width="4.4"/><line x1="1164.8" y1="360.0" x2="1149.8" y2="360.0" stroke-width="4.4"/><line x1="199.7" y1="338.7" x2="212.7" y2="338.7" stroke-width="4.4"/><line x1="1164.8" y1="338.7" x2="1149.8" y2="338.7" stroke-width="4.4"/><line x1="199.7" y1="322.2" x2="212.7" y2="322.2" stroke-width="4.4"/><line x1="1164.8" y1="322.2" x2="1149.8" y2="322.2" stroke-width="4.4"/><line x1="199.7" y1="308.7" x2="212.7" y2="308.7" stroke-width="4.4"/><line x1="1164.8" y1="308.7" x2="1149.8" y2="308.7" stroke-width="4.4"/><line x1="199.7" y1="297.3" x2="212.7" y2="297.3" stroke-width="4.4"/><line x1="1164.8" y1="297.3" x2="1149.8" y2="297.3" stroke-width="4.4"/><line x1="199.7" y1="287.4" x2="212.7" y2="287.4" stroke-width="4.4"/><line x1="1164.8" y1="287.4" x2="1149.8" y2="287.4" stroke-width="4.4"/><line x1="199.7" y1="278.7" x2="212.7" y2="278.7" stroke-width="4.4"/><line x1="1164.8" y1="278.7" x2="1149.8" y2="278.7" stroke-width="4.4"/><line x1="199.7" y1="270.9" x2="226.7" y2="270.9" stroke-width="5.2"/><line x1="1164.8" y1="270.9" x2="1137.8" y2="270.9" stroke-width="5.2"/><line x1="199.7" y1="219.7" x2="212.7" y2="219.7" stroke-width="4.4"/><line x1="1164.8" y1="219.7" x2="1149.8" y2="219.7" stroke-width="4.4"/><line x1="199.7" y1="189.7" x2="212.7" y2="189.7" stroke-width="4.4"/><line x1="1164.8" y1="189.7" x2="1149.8" y2="189.7" stroke-width="4.4"/><line x1="199.7" y1="168.4" x2="212.7" y2="168.4" stroke-width="4.4"/><line x1="1164.8" y1="168.4" x2="1149.8" y2="168.4" stroke-width="4.4"/><line x1="199.7" y1="151.9" x2="212.7" y2="151.9" stroke-width="4.4"/><line x1="1164.8" y1="151.9" x2="1149.8" y2="151.9" stroke-width="4.4"/><line x1="199.7" y1="138.4" x2="212.7" y2="138.4" stroke-width="4.4"/><line x1="1164.8" y1="138.4" x2="1149.8" y2="138.4" stroke-width="4.4"/><line x1="199.7" y1="127.0" x2="212.7" y2="127.0" stroke-width="4.4"/><line x1="1164.8" y1="127.0" x2="1149.8" y2="127.0" stroke-width="4.4"/><line x1="199.7" y1="117.1" x2="212.7" y2="117.1" stroke-width="4.4"/><line x1="1164.8" y1="117.1" x2="1149.8" y2="117.1" stroke-width="4.4"/><line x1="199.7" y1="108.4" x2="212.7" y2="108.4" stroke-width="4.4"/><line x1="1164.8" y1="108.4" x2="1149.8" y2="108.4" stroke-width="4.4"/><line x1="199.7" y1="100.6" x2="226.7" y2="100.6" stroke-width="5.2"/><line x1="1164.8" y1="100.6" x2="1137.8" y2="100.6" stroke-width="5.2"/><line x1="199.7" y1="49.4" x2="212.7" y2="49.4" stroke-width="4.4"/><line x1="1164.8" y1="49.4" x2="1149.8" y2="49.4" stroke-width="4.4"/><line x1="199.7" y1="19.4" x2="212.7" y2="19.4" stroke-width="4.4"/><line x1="1164.8" y1="19.4" x2="1149.8" y2="19.4" stroke-width="4.4"/><rect x="199.7" y="15.5" width="965.1" height="1021.7" fill="none" stroke-width="4.4"/><line x1="197.5" y1="15.7" x2="1167.0" y2="15.7" stroke-width="5.6"/></g>
<text x="103.4" y="116.1" textLength="75.4" lengthAdjust="spacingAndGlyphs" style="font-family:'DejaVu Serif','Liberation Serif',serif;font-weight:bold;font-size:42.6px">100</text>
<text x="128.4" y="286.6" textLength="50.0" lengthAdjust="spacingAndGlyphs" style="font-family:'DejaVu Serif','Liberation Serif',serif;font-weight:bold;font-size:42.6px">10</text>
<text x="153.8" y="456.2" textLength="21.5" lengthAdjust="spacingAndGlyphs" style="font-family:'DejaVu Serif','Liberation Serif',serif;font-weight:bold;font-size:42.6px">1</text>
<text x="115.1" y="626.5" textLength="60.4" lengthAdjust="spacingAndGlyphs" style="font-family:'DejaVu Serif','Liberation Serif',serif;font-weight:bold;font-size:42.6px">0.1</text>
<text x="90.1" y="797.8" textLength="86.1" lengthAdjust="spacingAndGlyphs" style="font-family:'DejaVu Serif','Liberation Serif',serif;font-weight:bold;font-size:42.6px">0.01</text>
<text x="66.2" y="967.0" textLength="110.0" lengthAdjust="spacingAndGlyphs" style="font-family:'DejaVu Serif','Liberation Serif',serif;font-weight:bold;font-size:42.6px">0.001</text>
<text x="262.1" y="1087.8" textLength="58.3" lengthAdjust="spacingAndGlyphs" style="font-family:'DejaVu Serif','Liberation Serif',serif;font-weight:bold;font-size:42.6px">0.1</text>
<text x="464.2" y="1087.8" textLength="24.4" lengthAdjust="spacingAndGlyphs" style="font-family:'DejaVu Serif','Liberation Serif',serif;font-weight:bold;font-size:42.6px">1</text>
<text x="640.4" y="1087.8" textLength="47.3" lengthAdjust="spacingAndGlyphs" style="font-family:'DejaVu Serif','Liberation Serif',serif;font-weight:bold;font-size:42.6px">10</text>
<text x="812.7" y="1087.8" textLength="74.2" lengthAdjust="spacingAndGlyphs" style="font-family:'DejaVu Serif','Liberation Serif',serif;font-weight:bold;font-size:42.6px">100</text>
<text x="986.0" y="1087.8" textLength="98.1" lengthAdjust="spacingAndGlyphs" style="font-family:'DejaVu Serif','Liberation Serif',serif;font-weight:bold;font-size:42.6px">1000</text>
<text x="291.2" y="315.4" textLength="366.8" lengthAdjust="spacingAndGlyphs" style="font-family:'DejaVu Serif','Liberation Serif',serif;font-weight:bold;font-size:40.0px">IRASF04385−0828</text>
<text x="291.2" y="357.0" textLength="187.2" lengthAdjust="spacingAndGlyphs" fill="#ff0000" style="font-family:'DejaVu Serif','Liberation Serif',serif;font-weight:bold;font-size:39.0px">z=0.0151</text>
<text x="607.1" y="1139.3" textLength="26.1" lengthAdjust="spacingAndGlyphs" style="font-family:'DejaVu Serif','Liberation Serif',serif;font-weight:bold;font-size:42px">λ</text><text x="650.9" y="1142.3" textLength="17.6" lengthAdjust="spacingAndGlyphs" style="font-family:'DejaVu Serif','Liberation Serif',serif;font-weight:bold;font-size:48.5px">[</text><text x="666.0" y="1139.3" textLength="28.2" lengthAdjust="spacingAndGlyphs" style="font-family:'DejaVu Serif','Liberation Serif',serif;font-weight:bold;font-size:38px;font-style:italic">μ</text><text x="693.0" y="1139.3" textLength="43.3" lengthAdjust="spacingAndGlyphs" style="font-family:'DejaVu Serif','Liberation Serif',serif;font-weight:bold;font-size:38px">m</text><text x="736.9" y="1142.3" textLength="22.3" lengthAdjust="spacingAndGlyphs" style="font-family:'DejaVu Serif','Liberation Serif',serif;font-weight:bold;font-size:48.5px">]</text>
<g transform="translate(49.2,592.0) rotate(-90)"><text x="-2.0" y="0.0" textLength="24.6" lengthAdjust="spacingAndGlyphs" style="font-family:'DejaVu Serif','Liberation Serif',serif;font-weight:bold;font-size:41px">S</text><text x="22.1" y="11.5" textLength="16.9" lengthAdjust="spacingAndGlyphs" style="font-family:'DejaVu Serif','Liberation Serif',serif;font-weight:bold;font-size:27px;font-style:italic">ν</text><text x="52.8" y="2.8" textLength="22.9" lengthAdjust="spacingAndGlyphs" style="font-family:'DejaVu Serif','Liberation Serif',serif;font-weight:bold;font-size:48.5px">[</text><text x="76.0" y="-1.5" textLength="15.9" lengthAdjust="spacingAndGlyphs" style="font-family:'DejaVu Serif','Liberation Serif',serif;font-weight:bold;font-size:41px">J</text><text x="94.3" y="0.0" textLength="19.0" lengthAdjust="spacingAndGlyphs" style="font-family:'DejaVu Serif','Liberation Serif',serif;font-weight:bold;font-size:41px">y</text><text x="115.3" y="2.8" textLength="21.8" lengthAdjust="spacingAndGlyphs" style="font-family:'DejaVu Serif','Liberation Serif',serif;font-weight:bold;font-size:48.5px">]</text></g>
<text x="282.5" y="96.6" fill="#8aa2c1" style="font-family:'DejaVu Sans Mono','Liberation Mono',monospace;font-weight:bold;font-size:40px"><tspan stroke="#8aa2c1" stroke-width="1.7">−</tspan>dust re−emission</text>
<text x="282.5" y="134.9" fill="#0000ff" style="font-family:'DejaVu Sans Mono','Liberation Mono',monospace;font-weight:bold;font-size:40px"><tspan stroke="#0000ff" stroke-width="1.7">−</tspan>unabsorbed stars</text>
<text x="282.5" y="173.2" fill="#ff7300" style="font-family:'DejaVu Sans Mono','Liberation Mono',monospace;font-weight:bold;font-size:40px"><tspan stroke="#ff7300" stroke-width="1.7">−</tspan>estinguished stars</text>
<text x="282.5" y="211.5" fill="#22a877" style="font-family:'DejaVu Sans Mono','Liberation Mono',monospace;font-weight:bold;font-size:40px"><tspan stroke="#22a877" stroke-width="1.7">−</tspan>torus</text>
</svg>
</body></html>
